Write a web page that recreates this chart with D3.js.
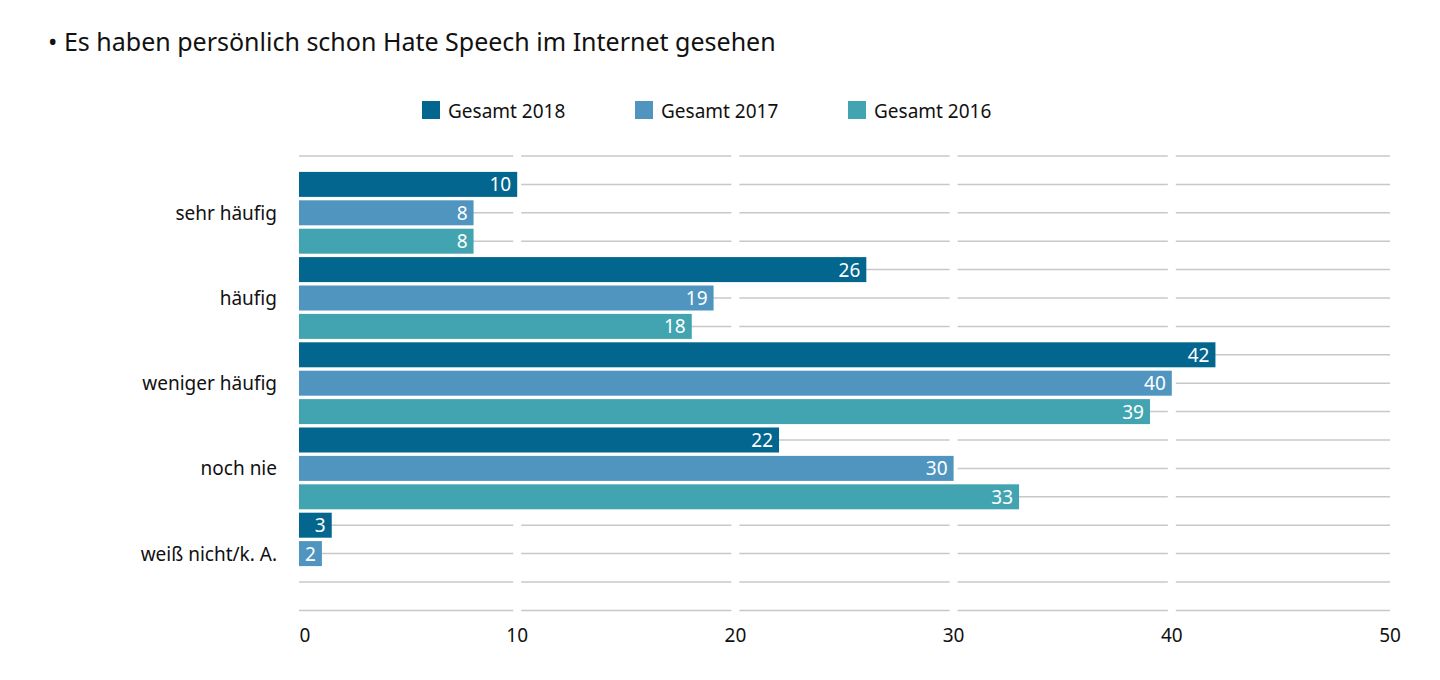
<!DOCTYPE html>
<html><head><meta charset="utf-8">
<script src="https://cdn.jsdelivr.net/npm/d3@7"></script>
<style>body{margin:0;background:#fff;font-family:"Noto Sans",sans-serif}</style>
</head><body><svg id="svg" width="1440" height="680"></svg>
<script>
var categories = ["sehr häufig", "häufig", "weniger häufig", "noch nie", "weiß nicht/k. A."];
var seriesNames = ["Gesamt 2018", "Gesamt 2017", "Gesamt 2016"];
var colors = ["#02668f", "#4f95c0", "#42a4b0"];
// bar lengths as drawn, and the labels shown on them
var values2018 = [10, 26, 42, 22, 1.5];
var values2017 = [8, 19, 40, 30, 1.05];
var values2016 = [8, 18, 39, 33, null];
var labels2018 = ["10", "26", "42", "22", "3"];
var labels2017 = ["8", "19", "40", "30", "2"];
var labels2016 = ["8", "18", "39", "33", ""];
var xTicks = [0, 10, 20, 30, 40, 50];

var svg = d3.select("#svg");
var x = d3.scaleLinear().domain([0, 50]).range([299, 1390]);
var step = 28.4, top0 = 156;
var rows = [];
var vals = [values2018, values2017, values2016], labs = [labels2018, labels2017, labels2016];
categories.forEach(function(c, i){
	for (var s = 0; s < 3; s++) rows.push({cat: i, s: s, v: vals[s][i], l: labs[s][i], y: top0 + step * (i * 3 + s + 1)});
});

svg.append("text").attr("x", 48).attr("y", 51).attr("font-size", 25).attr("fill", "#111")
	.text("• Es haben persönlich schon Hate Speech im Internet gesehen");

// legend
var lx = [422, 635, 848];
seriesNames.forEach(function(n, i){
	svg.append("rect").attr("x", lx[i]).attr("y", 101).attr("width", 18).attr("height", 18).attr("fill", colors[i]);
	svg.append("text").attr("x", lx[i] + 26).attr("y", 118).attr("font-size", 19).attr("fill", "#111").text(n);
});

// horizontal gridlines
var lines = d3.range(17).map(function(k){ return top0 + step * k; });
svg.selectAll(".grid").data(lines).enter().append("line")
	.attr("x1", 299).attr("x2", 1390).attr("y1", function(d){ return d; }).attr("y2", function(d){ return d; })
	.attr("stroke", "#c8c8c8").attr("stroke-width", 1.5);
// white gaps at ticks
svg.selectAll(".gap").data(xTicks.slice(1, 5)).enter().append("rect")
	.attr("x", function(d){ return x(d) - 4; }).attr("y", top0 - 2).attr("width", 8).attr("height", 16 * step + 4).attr("fill", "#fff");

var bars = rows.filter(function(r){ return r.v != null; });
svg.selectAll(".bar").data(bars).enter().append("rect")
	.attr("x", x(0)).attr("y", function(d){ return d.y - 12.5; })
	.attr("width", function(d){ return x(d.v) - x(0); }).attr("height", 25)
	.attr("fill", function(d){ return colors[d.s]; });
svg.selectAll(".lab").data(bars).enter().append("text")
	.attr("x", function(d){ return x(d.v) - 6; }).attr("y", function(d){ return d.y + 7; })
	.attr("text-anchor", "end").attr("font-size", 19).attr("fill", "#fff").text(function(d){ return d.l; });

svg.selectAll(".cat").data(categories).enter().append("text")
	.attr("x", 277).attr("y", function(d, i){ return top0 + step * (i * 3 + 2) + 7; })
	.attr("text-anchor", "end").attr("font-size", 19).attr("fill", "#111").text(function(d){ return d; });

svg.selectAll(".tick").data(xTicks).enter().append("text")
	.attr("x", function(d){ return x(d) + (d === 0 ? 6 : 0); }).attr("y", 642)
	.attr("text-anchor", "middle").attr("font-size", 19).attr("fill", "#111").text(function(d){ return d; });
</script></body></html>
